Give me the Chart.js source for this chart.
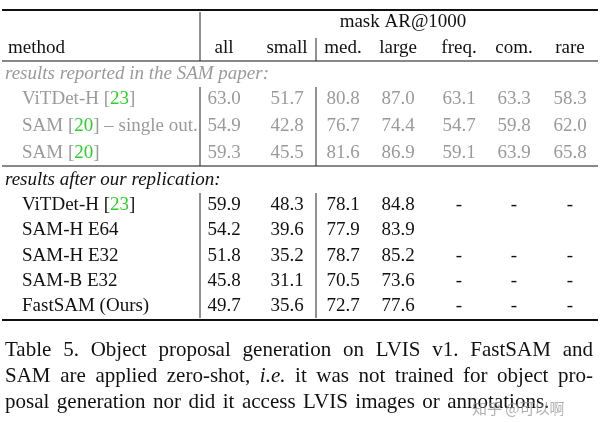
<!DOCTYPE html>
<html><head><meta charset="utf-8">
<script src="https://cdn.jsdelivr.net/npm/chart.js@4.4.0/dist/chart.umd.min.js"></script>
<style>html,body{margin:0;padding:0;background:#fff}#c{display:block}</style>
</head><body><canvas id="c" width="600" height="423"></canvas>
<script>
const columns = ["all","small","med.","large","freq.","com.","rare"];
const groupTitle = "mask AR@1000";
const section1 = "results reported in the SAM paper:";
const section2 = "results after our replication:";
const methods1 = [["ViTDet-H ","23",""],["SAM ","20"," – single out."],["SAM ","20",""]];
const values1 = [
  ["63.0","51.7","80.8","87.0","63.1","63.3","58.3"],
  ["54.9","42.8","76.7","74.4","54.7","59.8","62.0"],
  ["59.3","45.5","81.6","86.9","59.1","63.9","65.8"]];
const methods2 = [["ViTDet-H ","23",""],["SAM-H E64","",""],["SAM-H E32","",""],["SAM-B E32","",""],["FastSAM (Ours)","",""]];
const values2 = [
  ["59.9","48.3","78.1","84.8","-","-","-"],
  ["54.2","39.6","77.9","83.9","","",""],
  ["51.8","35.2","78.7","85.2","-","-","-"],
  ["45.8","31.1","70.5","73.6","-","-","-"],
  ["49.7","35.6","72.7","77.6","-","-","-"]];
const caption = [
  "Table 5.  Object proposal generation on LVIS v1.  FastSAM and",
  "SAM are applied zero-shot, _i.e._ it was not trained for object pro-",
  "posal generation nor did it access LVIS images or annotations."];

const colX = [224,287,343,398,459,514,570];
const F = '"Liberation Serif", serif';
const GRAY = '#9a9a9a', GREEN = '#2bd02b';

const tablePlugin = {
  id:'table',
  afterDraw(chart){
    const ctx = chart.ctx, xs = chart.scales.x, ys = chart.scales.y;
    const X = v=>xs.getPixelForValue(v), Y = v=>ys.getPixelForValue(v);
    ctx.save();
    ctx.textBaseline='middle';
    const hline=(y,w)=>{ctx.strokeStyle='#111';ctx.lineWidth=w;ctx.beginPath();ctx.moveTo(X(2),Y(y));ctx.lineTo(X(598),Y(y));ctx.stroke();};
    const vline=(x,a,b)=>{ctx.strokeStyle='#222';ctx.lineWidth=1;ctx.beginPath();ctx.moveTo(X(x),Y(a));ctx.lineTo(X(x),Y(b));ctx.stroke();};
    hline(10,2); hline(61,1); hline(166,1); hline(320,2);
    vline(200,12,61); vline(316,38,61);
    vline(200,87,166); vline(316,87,166);
    vline(200,193,318); vline(316,193,318);
    const FS='19px ';
    ctx.font=FS+F; ctx.fillStyle='#111';
    ctx.textAlign='center';
    ctx.fillText(groupTitle,X(403),Y(22));
    columns.forEach((c,i)=>ctx.fillText(c,X(colX[i]),Y(48)));
    ctx.textAlign='left';
    ctx.fillText('method',X(8),Y(48));
    ctx.font='italic '+FS+F;
    ctx.fillStyle=GRAY; ctx.fillText(section1,X(5),Y(74));
    ctx.fillStyle='#111'; ctx.fillText(section2,X(5),Y(180));
    const drawMethod=(m,y,col)=>{
      ctx.font=FS+F; ctx.textAlign='left';
      let x=X(22);
      ctx.fillStyle=col; ctx.fillText(m[0],x,Y(y)); x+=ctx.measureText(m[0]).width;
      if(m[1]){
        ctx.fillText('[',x,Y(y)); x+=ctx.measureText('[').width;
        ctx.fillStyle=GREEN; ctx.fillText(m[1],x,Y(y)); x+=ctx.measureText(m[1]).width;
        ctx.fillStyle=col; ctx.fillText(']',x,Y(y)); x+=ctx.measureText(']').width;
      }
      if(m[2]){ctx.fillText(m[2],x,Y(y));}
    };
    const rows1=[99,126,153], rows2=[205,230,256,281,306];
    const drawVals=(v,y,col)=>{ctx.font=FS+F;ctx.textAlign='center';ctx.fillStyle=col;v.forEach((t,i)=>t&&ctx.fillText(t,X(colX[i]),Y(y)));};
    methods1.forEach((m,i)=>{drawMethod(m,rows1[i],GRAY);drawVals(values1[i],rows1[i],GRAY);});
    methods2.forEach((m,i)=>{drawMethod(m,rows2[i],'#111');drawVals(values2[i],rows2[i],'#111');});
    const capY=[350,376,402];
    const CF='21px ';
    caption.forEach((line,li)=>{
      const words=line.split(' ').filter(w=>w!=='').map(w=>{
        const it=w.startsWith('_'); return {t:it?w.replace(/_/g,''):w,it};});
      ctx.textAlign='left'; ctx.fillStyle='#111';
      const setF=w=>{ctx.font=(w.it?'italic ':'')+CF+F;};
      let total=0; words.forEach(w=>{setF(w);total+=ctx.measureText(w.t).width;});
      const gap=li<2?(588-total)/(words.length-1):7.5;
      let x=X(5);
      words.forEach((w,i)=>{ setF(w); ctx.fillText(w.t,x,Y(capY[li])); x+=ctx.measureText(w.t).width+gap;});
    });
    ctx.font='15px "Noto Sans CJK SC", sans-serif'; ctx.fillStyle='rgba(150,150,150,0.75)';
    ctx.textAlign='left'; ctx.fillText('知乎 @可以啊',X(472),Y(408));
    ctx.restore();
  }
};

new Chart(document.getElementById('c'),{
  type:'scatter',
  data:{datasets:[{data:[]}]},
  options:{responsive:false,animation:false,events:[],
    layout:{padding:0},
    plugins:{legend:{display:false},tooltip:{enabled:false}},
    scales:{x:{type:'linear',min:0,max:600,display:false},
            y:{type:'linear',min:0,max:423,reverse:true,display:false}}},
  plugins:[tablePlugin]
});
</script></body></html>
